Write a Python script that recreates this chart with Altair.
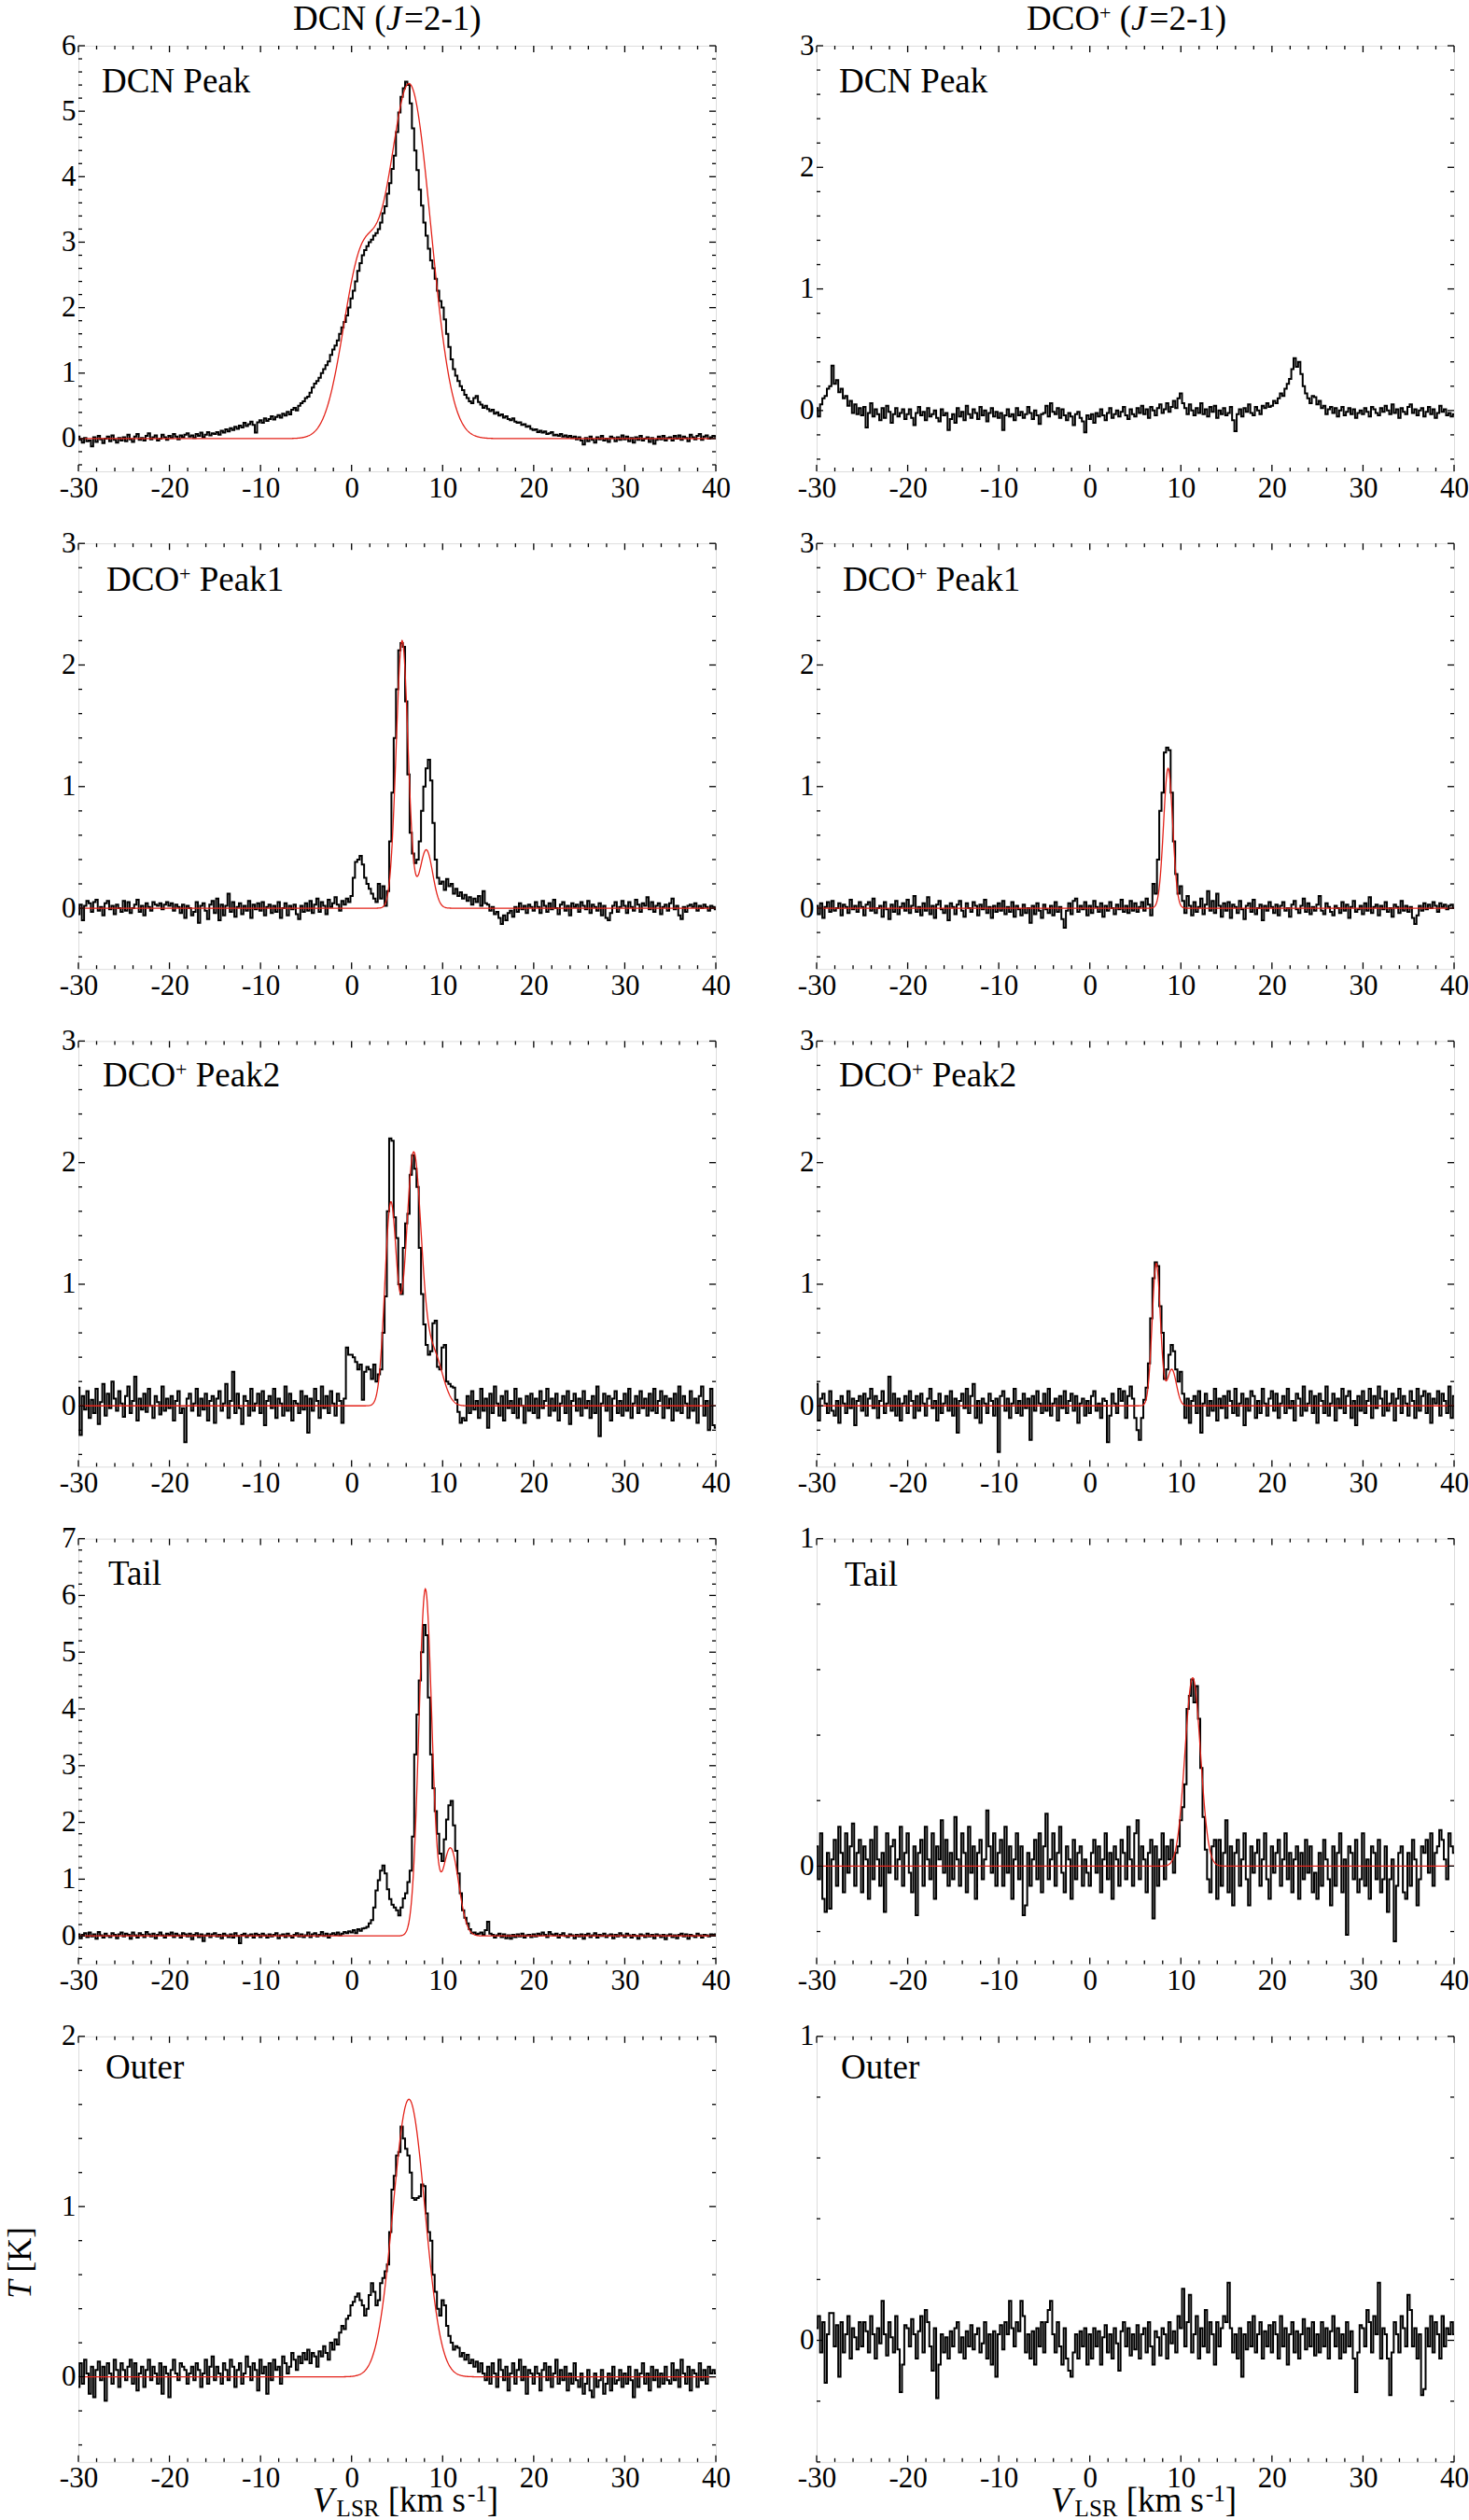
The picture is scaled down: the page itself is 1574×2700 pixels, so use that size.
import altair as alt
import numpy as np
import pandas as pd

FONT = "Liberation Serif"
RED = "#e32219"
PANEL_W, PANEL_H = 683, 456
ROW_GAP, COL_GAP = 77.2, 108
TICK_FS = 31

# Velocity axis shared by all spectra: first channel at -30 km/s, 0.25 km/s channels
V0, DV, NCH = -30.0, 0.25, 281

# Brightness temperature per channel, in units of 0.01 K (one line = 5 km/s)
dcn_dcn_peak = [
    3, -2, -6, 1, -4, -3, -12, 2, -5, 4, -1, -7, 0, 3, -4, 5, -2, -6, 1, -3,
    2, -4, 6, -1, -5, 3, 7, -2, 1, -3, 4, 8, -1, 2, 5, -3, 0, 6, 2, -2,
    4, 1, 7, 3, -1, 5, 2, 6, 8, 3, 5, 1, 7, 4, 9, 2, 6, 10, 5, 8,
    7, 10, 6, 12, 9, 14, 11, 16, 13, 18, 15, 20, 17, 24, 19, 22, 26, 21, 9, 25,
    28, 24, 31, 27, 30, 34, 29, 33, 36, 32, 38, 35, 41, 37, 44, 47, 43, 50, 54, 57,
    62, 64, 70, 78, 84, 88, 93, 100, 106, 112, 118, 128, 136, 142, 150, 160, 170, 178, 188, 200,
    214, 226, 240, 256, 268, 280, 288, 294, 300, 304, 310, 314, 320, 330, 344, 355, 374, 390, 412, 432,
    468, 498, 522, 535, 545, 540, 512, 474, 440, 410, 380, 356, 330, 310, 290, 272, 260, 244, 226, 210,
    200, 182, 160, 140, 121, 106, 96, 88, 80, 74, 67, 62, 57, 54, 62, 65, 56, 52, 47, 50,
    45, 42, 44, 38, 40, 35, 37, 32, 34, 30, 28, 31, 26, 24, 25, 21, 22, 18, 19, 15,
    13, 14, 10, 12, 9, 11, 7, 8, 10, 5, 6, 4, 7, 3, 5, 2, 4, 1, 3, -1,
    2, -3, -9, 1, -4, 3, -2, -6, 2, -1, 4, -3, 0, -5, 3, 1, -4, 2, -2, 5,
    -1, 3, -4, 1, -6, 2, -2, 4, -3, 0, 2, -5, 1, -8, -2, 3, -1, 4, -3, 1,
    2, -3, 4, 0, 5, -2, 3, 1, -4, 6, 2, -1, 4, 7, -2, 3, 5, 0, 2, 4,
    3,
]
dco_dcn_peak = [
    2, -5, 5, 10, 12, 18, 20, 37, 22, 25, 15, 18, 10, 12, 4, 8, -2, 5, -3, 2,
    -4, 3, -14, -2, 6, -5, 1, -3, -8, 2, -6, 4, -1, -10, -3, 2, -5, -2, 1, -7,
    -3, 1, -6, -12, -2, 3, -4, -1, -8, 2, -5, -3, 0, -6, -9, 1, -4, -2, -16, -7,
    -3, -10, 2, -5, -1, -8, 4, -3, -6, 1, -2, -7, 3, -4, 0, -9, -2, 2, -5, -1,
    -6, -2, -16, -4, 1, -5, -3, -8, 2, -4, -1, -6, -3, 3, -2, -7, 0, -4, -11, -3,
    -2, 4, -5, 6, -1, -3, 2, -6, 1, -4, -8, -2, -5, -12, -3, -1, -6, -9, -18, -4,
    -7, -3, -10, -2, -5, 1, -4, -8, -2, 2, -6, -3, 0, -5, -1, 3, -4, -7, 1, -3,
    -5, 2, -2, 4, -3, 1, -6, 3, 0, -4, 2, 5, -2, 1, 6, -1, 3, 8, 2, 10,
    14, 6, 2, -3, 5, 0, -4, 2, -2, 6, -3, 1, -5, 3, -1, 4, -6, 0, -3, 2,
    -4, -2, 3, -8, -17, -3, 1, -5, 2, -1, 5, -2, -4, 3, 0, -3, 4, 2, 6, 3,
    4, 8, 6, 10, 14, 12, 18, 22, 26, 34, 43, 36, 40, 30, 20, 14, 10, 6, 12, 11,
    5, 8, 2, 4, -3, 1, 3, -2, 2, -5, 0, 3, -4, -1, 2, -3, 1, -6, -2, 0,
    -3, 2, -1, -5, 3, 1, -2, -4, 2, -1, 4, 0, -3, 5, -2, 1, -6, 2, -1, -3,
    3, 5, -2, 1, -4, 0, 2, -5, -1, 3, -3, 1, -6, -2, 4, -1, 1, -4, -2, -5,
    -3,
]
dcn_dco_peak1 = [
    -5, 3, -10, 2, 6, 4, -3, 5, 7, -2, 1, -6, 4, 6, -1, 2, -5, 3, 0, -3,
    6, -2, 5, -4, 0, 3, 7, -3, 2, -6, 4, 1, -2, 5, 3, 2, 4, -1, 3, 5,
    2, 4, -2, 3, 1, -4, 3, -8, 2, 0, -6, -3, 5, -12, 2, 4, -2, -9, 3, 6,
    -4, 8, -10, 3, -6, 2, 12, -3, 5, -7, 1, 4, -5, 2, -2, 6, -8, 3, -1, 4,
    -2, 5, -6, 1, 3, -4, 2, -3, 5, -8, 0, 4, -6, 2, -1, 3, -5, -9, 2, -3,
    4, -2, 6, -4, 3, 8, -3, 5, 2, -5, 7, 1, 4, 9, 3, -2, 6, 3, 8, 5,
    10, 25, 38, 40, 43, 36, 25, 20, 16, 12, 8, 5, 20, 8, 18, 2, 14, 55, 95, 140,
    180, 212, 218, 215, 170, 110, 62, 45, 37, 40, 55, 80, 100, 115, 122, 105, 70, 40, 25, 20,
    22, 15, 24, 18, 20, 12, 16, 10, 13, 8, 11, 6, 9, 3, 8, 5, 10, 2, 14, 4,
    3, -2, 1, -5, -3, -8, -13, -6, -10, -4, -2, -7, 1, -3, 4, -1, 2, -4, 3, 1,
    -2, 5, 1, -4, 6, 2, -3, 4, -1, 7, 0, -5, 3, 5, -2, 2, -6, 4, 1, 3,
    -3, 5, 2, -1, 6, -4, 3, 1, -2, 4, -6, 2, -8, -10, -4, 2, 5, -3, 1, 6,
    2, -4, 5, 1, -2, 7, 3, -3, 4, 2, 9, -1, 5, -3, 2, 4, -5, 1, 3, -2,
    4, 8, -1, 2, -6, -9, 1, -3, 2, 3, 1, 4, -2, 2, 0, 3, 1, -2, 2, 1,
    -1,
]
dco_dco_peak1 = [
    2, -5, 4, -8, 1, 5, -3, 6, -2, 0, 4, -6, 3, 1, -4, 7, -1, 2, -3, 5,
    1, -6, 3, 5, -2, 8, -4, 0, 2, -7, 5, -1, -9, 3, -3, 6, -5, 1, 4, -2,
    7, -4, 2, 10, -3, 1, -6, 4, -2, 9, -5, 2, -8, 3, 6, -1, -4, 2, -10, 4,
    1, -5, 3, 6, -2, -7, 4, 0, -3, 5, 2, -6, 3, -1, 7, -4, 1, -8, 2, -3,
    4, -2, 6, -5, 1, -3, 5, -7, 2, -1, -6, 3, -4, 0, -12, 2, -5, 4, -2, -8,
    3, -1, -4, 2, -6, 5, -3, 1, -9, -16, -2, 4, -5, 6, 8, -3, 2, -1, 5, -6,
    2, -4, 6, 1, -3, 4, -7, 2, -2, 5, 0, -5, 3, -1, 7, -3, 2, -4, 6, -2,
    4, -3, 1, 5, -2, 8, 3, -6, 20, 12, 40, 80, 95, 128, 132, 130, 95, 55, 28, 12,
    18, 6, -4, 10, 2, -6, 5, -3, 1, 8, -5, 3, 14, -2, 6, -4, 12, 2, -7, 4,
    -2, 5, -8, 3, 1, -4, 6, -1, -9, 2, 4, -3, 7, -5, 0, 3, -10, 2, -2, 5,
    1, -4, 3, -6, 2, 5, -2, 0, -7, 3, 6, -1, -4, 2, 8, -3, 4, -5, 1, -2,
    3, 10, -2, -5, 4, 1, -3, -6, 2, 0, -4, 5, -2, 3, -8, 1, 6, -3, -1, 2,
    -5, 4, -2, 9, -4, 1, 3, -6, 2, -1, 5, -3, 0, -7, 3, 1, -4, 6, -2, 2,
    -3, 1, -8, -13, -6, 2, -2, 4, -1, 3, 0, 5, 2, -3, 4, 1, 3, -1, 2, 3,
    0,
]
dcn_dco_peak2 = [
    15, -24, 8, -3, 12, -10, 5, -6, 14, -15, 3, 18, -8, 10, -2, 20, 6, -4, 12, 2,
    -9, 8, 16, -6, 4, 24, -12, 6, -3, 10, -5, 14, 0, -10, 8, 3, -7, 16, -4, 6,
    -2, 8, -12, 4, 12, -6, -2, -30, 6, 10, -4, 2, 14, -8, 6, -3, 10, -12, 4, 8,
    -14, 6, 12, -4, 2, 18, -10, 4, 28, -6, 10, -2, -15, 8, 4, -8, 14, -4, 2, 10,
    -6, 12, -16, 4, 8, -2, 14, -10, 6, 2, -8, 16, -4, 10, -12, 4, 2, -6, 12, -3,
    8, -22, 6, -4, 14, 4, -10, 16, -2, 8, -6, 12, 2, -8, 10, 4, -14, 6, 48, 42,
    42, 40, 36, 30, 34, 5, 28, 32, 30, 22, 34, 20, 26, 30, 60, 90, 160, 220, 218, 155,
    138, 100, 92, 130, 150, 158, 190, 206, 195, 180, 130, 92, 67, 50, 42, 45, 68, 70, 32, 30,
    48, 50, 20, 18, 16, 15, 5, -5, -14, -10, -12, 8, -6, 12, -3, 4, -10, 14, -4, 6,
    -18, 10, -6, 16, 2, -8, 8, -12, 12, -2, 4, -6, 14, -10, 6, 0, -14, 8, -4, 10,
    -6, 6, -10, 12, -2, 4, 14, -8, 6, -4, 10, -12, 2, 8, -6, 12, -15, 4, 10, -4,
    6, -8, 12, -2, 4, -10, 8, -6, 16, -25, 2, 10, -4, 8, -12, 6, 12, -6, 4, -8,
    10, -4, 14, -10, 2, 8, -6, 12, -2, 6, -8, 10, -4, 14, -6, 4, 12, -10, 8, -2,
    6, -12, 10, -4, 16, -6, 8, 2, -10, 12, -4, 6, -14, 8, 16, -8, 4, -20, 14, -16,
    -18,
]
dco_dco_peak2 = [
    18, -12, 6, 10, 2, -6, 12, -4, -8, 4, -14, 8, 2, -6, 12, -2, 6, -16, 4, 8,
    -4, 10, -8, 6, 14, -2, 8, -10, 4, 12, -6, 2, 24, -4, 10, -8, 6, -12, 2, 8,
    -6, 12, 4, -10, 8, -4, 10, 2, -8, 6, 14, -2, 4, -12, 10, -6, 2, 8, -4, 12,
    -8, 6, -22, 4, 10, -2, 14, -6, 8, 18, -10, 4, -14, 6, 2, -6, 10, 4, -8, 6,
    -38, 8, 12, -4, 6, -10, 2, 14, -6, 4, -8, 10, -2, 6, -28, 8, -4, 12, 2, -6,
    10, -4, 14, -8, 2, 6, -12, 8, -2, 12, -6, 4, 10, -4, 8, -14, 2, 6, -8, 4,
    -6, 8, 12, -4, 2, -10, 6, 4, -30, -8, 10, 2, -6, 14, 4, 12, -10, 8, 16, 6,
    -10, -20, -28, -10, 5, 15, 35, 72, 105, 118, 115, 82, 60, 22, 30, 42, 50, 45, 30, 20,
    28, 10, -10, 6, -14, 4, 8, -6, 12, -22, 2, 10, -8, 4, -4, 14, -12, 6, -2, 8,
    -10, 12, 4, -6, 14, -8, 2, 10, -16, 6, -4, 12, 8, -10, 4, -6, 14, 2, -8, 6,
    12, -4, 10, -10, 2, 8, -6, 14, -2, 4, -12, 10, 6, -8, 16, -4, 2, 12, -6, 8,
    -14, 10, 4, -6, 16, -8, 2, 10, -12, 6, -2, 14, -6, 8, 12, -10, 4, -16, 8, -4,
    12, -6, 4, 14, -10, 8, -2, 16, 6, -8, 12, -4, 2, 10, -12, 6, 14, -6, 8, 2,
    -8, 12, 4, -10, 14, -4, 8, 12, -6, 10, -14, 6, 2, 12, -8, 10, 4, -6, 16, -10,
    8,
]
dcn_tail = [
    3, -4, 2, 5, -2, 6, -1, 3, -5, 7, 1, -3, 4, 0, -2, 5, 2, -4, 3, 6,
    -1, 4, 2, -5, 6, 1, -3, 5, 2, -2, 7, 3, -1, 4, -4, 2, 6, 1, -3, 4,
    2, 6, -2, 4, 1, -3, 5, 3, -1, 4, -6, 2, 5, -2, 3, -9, 1, 4, -2, 3,
    5, -1, 2, -4, 4, 1, -2, 3, -3, 5, 0, -13, 2, 4, -2, 1, 3, -3, 4, 2,
    -2, 4, 1, -3, 3, -1, 2, 5, -4, 1, 3, -2, 4, 0, -3, 2, 5, -1, 3, -2,
    1, 6, -2, 3, 5, -1, 2, 7, 0, 4, -3, 3, 5, 2, 6, 1, 4, 7, 5, 8,
    6, 10, 5, 12, 9, 13, 14, 16, 22, 28, 50, 80, 98, 115, 124, 110, 82, 65, 55, 50,
    45, 36, 50, 66, 75, 95, 115, 175, 320, 390, 450, 500, 548, 530, 420, 320, 260, 220, 180, 145,
    132, 170, 205, 230, 238, 195, 150, 110, 75, 45, 32, 22, 12, 5, 6, 3, 4, 6, 2, 10,
    25, 4, 2, -3, 1, 4, -2, 3, -4, 1, -5, 2, -2, 3, -1, 4, -3, 1, 2, -2,
    3, -1, 4, 1, 6, 2, -2, 7, 3, 1, 4, -3, 2, 5, 0, -2, 3, 1, -4, 2,
    -1, 3, -5, 2, 4, -2, 1, 5, -3, 2, 0, 4, -2, 1, 3, -4, 2, -1, 5, 1,
    -2, 4, 1, -3, 2, 0, -5, 3, 1, -2, 4, -1, 2, -4, 3, 1, -2, 2, -6, 1,
    3, -2, 1, -4, 2, 4, -1, 3, -5, 2, 0, -2, 4, 1, -3, 2, 1, -1, 3, 2,
    3,
]
dco_tail = [
    6, -4, 10, -10, -14, 4, -13, 2, 8, -6, 12, 4, -8, 10, -2, 6, 13, -6, 4, 8,
    -8, 6, 2, -10, 8, -4, 12, 2, -6, 4, -14, 10, -2, 6, 8, -4, 2, 12, -6, 4,
    10, -2, -8, 6, -15, 4, 8, -6, 12, 2, -4, 10, -10, 6, 2, 14, -2, 8, -6, 4,
    -4, 15, 2, -6, 10, 4, -8, 12, -2, 6, -10, 4, 8, -4, 2, 17, 6, -2, 10, -6,
    4, 8, -6, 12, -2, 6, -10, 2, 10, -4, 6, -15, -12, 4, -6, 2, 8, -4, 10, -8,
    6, 16, -4, 2, 10, -6, 4, 12, -2, -8, 6, 2, -10, 8, -4, 4, 6, -6, 2, -2,
    -6, 4, 8, -2, 6, -8, 2, 10, -4, 4, -10, 6, 2, -6, 8, 4, -4, 12, 2, -6,
    10, 14, -4, 6, 2, -8, 4, 8, -16, 6, -6, 2, 10, -4, 6, 2, 8, -2, 4, 6,
    14, 18, 25, 48, 52, 57, 50, 55, 45, 30, 15, 5, -4, -8, 6, 8, -10, 8, -6, 4,
    14, -8, 6, -12, 4, 8, -6, 2, 10, -4, -12, 6, -2, 4, 8, -6, 2, 10, -4, -10,
    6, -2, 4, 8, -6, 2, 10, -4, 4, -8, 2, 6, -10, 4, -4, 8, -2, 6, -8, -2,
    -10, 4, -6, 8, 2, -4, -12, 6, -6, 4, 10, -8, 2, -21, 6, 4, -4, 8, -8, -4,
    10, -6, 2, -10, 6, 4, -4, 8, -8, -4, 6, -14, -4, 2, -23, -6, 4, 6, -8, -10,
    4, -6, 8, 2, -12, -4, 6, 4, 8, -2, 10, -6, 4, 6, 11, 8, 2, -4, 10, 6,
    4,
]
dcn_outer = [
    -6, 8, -4, 10, 2, -10, 6, -12, 4, 9, -2, 6, -14, 8, 2, -4, 10, 4, -6, 8,
    4, -2, 6, 10, -4, 8, -8, 2, 6, -6, 4, 10, -2, 6, 2, -4, 8, -10, 6, 2,
    -12, 4, 10, 2, -2, 8, 6, 4, -4, 2, 6, -2, 8, 4, -6, 2, 10, -4, 6, 12,
    -2, 6, 2, -4, 8, 4, -2, 10, 6, -6, 4, 8, -4, 2, 12, 6, -2, 8, 4, -8,
    10, 2, 6, -10, 8, -2, 10, 4, 6, -4, 12, 8, 2, 6, 14, 10, 4, 12, 8, 14,
    10, 16, 8, 14, 12, 6, 15, 12, 18, 14, 10, 20, 16, 22, 19, 26, 30, 28, 34, 36,
    42, 44, 47, 49, 45, 42, 36, 40, 48, 55, 50, 42, 45, 55, 58, 62, 66, 85, 110, 118,
    130, 132, 147, 140, 134, 130, 120, 105, 104, 105, 106, 113, 112, 96, 85, 80, 60, 50, 40, 36,
    45, 42, 30, 24, 20, 16, 18, 17, 12, 14, 10, 13, 8, 10, 6, 9, 3, 8, 2, -2,
    6, -4, 8, 2, -6, 10, 4, -2, 6, -8, 2, 8, -4, 4, 10, -2, 6, -10, 4, 2,
    -4, 6, 2, -8, 4, 8, -2, 6, -6, 2, 10, -4, 4, -2, 6, -8, 2, -4, 8, -2,
    -6, 2, -10, -4, 4, -8, -12, 2, -6, -2, 4, -10, -4, 2, -8, 6, -4, -2, 4, -6,
    2, -4, 6, -2, -12, 4, -6, 2, 8, -4, 2, -8, 6, -2, 4, -6, 2, -4, 6, -2,
    -4, 8, -2, 4, -6, 10, 2, -4, 6, -8, 4, 2, -6, 8, -2, 4, -4, 6, 2, 4,
    2,
]
dco_outer = [
    4, 8, -4, 6, -14, 2, 9, 9, -2, 5, -12, 6, -4, 2, 8, -6, 4, 1, -3, 6,
    -2, 6, 3, -4, 8, 2, -6, 4, -1, 13, 2, -5, 6, 1, -4, 8, -3, -17, -8, 5,
    4, -2, 7, 2, -6, 3, 8, -4, 10, 6, -2, -10, 4, -19, -8, 2, -4, 1, -6, 3,
    -2, 4, 6, -4, 1, -6, 3, -2, 5, -3, 2, 4, -4, -1, 6, -6, 2, -8, 3, -12,
    2, 5, -3, 6, 2, 13, 4, -2, 6, 3, 13, 8, -4, 2, -6, 3, -8, 4, -2, 6,
    -4, 6, 10, 13, 2, -4, 6, -2, -8, 4, -6, -10, -12, -4, 2, -6, 3, -2, 4, -8,
    2, -6, 4, -2, 3, -8, 1, 5, -4, 2, -6, 4, -1, -10, 3, 6, -2, 4, -5, 2,
    -3, 5, -6, 2, 4, -4, 6, -2, -8, 3, 1, -5, 4, 2, -6, 6, -1, 3, -4, 8,
    4, 17, -2, 6, 15, -4, 2, 8, -6, 4, -2, 10, -4, 6, 2, -8, 6, -2, 4, 8,
    6, 19, 4, -4, 2, -6, 4, -12, 2, -3, 6, -2, 8, -4, 2, 6, -6, 3, -2, 5,
    -4, 6, 2, -6, 8, -2, 4, -8, 2, 6, -4, 3, -6, 2, 7, -3, 4, -2, 6, -5,
    2, -4, 6, -2, 4, -6, 3, 8, -2, 4, -6, 2, -4, 6, -2, 3, -6, -17, -4, 5,
    4, -2, 10, 6, -4, 8, 2, 19, -6, 4, 2, -6, -18, -4, 6, 2, -4, 8, 4, -2,
    15, 10, -2, 4, -6, 2, -18, -16, 4, -2, 8, -4, 6, 2, -6, 8, -2, 4, 2, 6,
    2,
]

# Gaussian fit components: (peak [K], centre [km/s], sigma [km/s])
fit_dcn_dcn_peak = [(5.35, 6.4, 2.3), (2.6, 1.0, 2.0)]
fit_dcn_dco_peak1 = [(2.2, 5.55, 0.65), (0.48, 8.2, 0.7)]
fit_dco_dco_peak1 = [(1.15, 8.6, 0.5)]
fit_dcn_dco_peak2 = [(1.65, 4.3, 0.65), (2.05, 6.8, 0.85), (0.42, 9.0, 1.0)]
fit_dco_dco_peak2 = [(1.17, 7.3, 0.45), (0.3, 9.0, 0.5)]
fit_dcn_tail = [(6.1, 8.1, 0.71), (1.55, 10.85, 0.9)]
fit_dco_tail = [(0.575, 11.3, 0.85)]
fit_dcn_outer = [(1.63, 6.3, 1.75)]

# Panel labels as text runs
label_dcn_peak = [("DCN Peak", "r")]
label_peak1 = [("DCO", "r"), ("+", "sup"), (" Peak1", "r")]
label_peak2 = [("DCO", "r"), ("+", "sup"), (" Peak2", "r")]
label_tail = [("Tail", "r")]
label_outer = [("Outer", "r")]

panels = [
    dict(spec=dcn_dcn_peak, fit=fit_dcn_dcn_peak, y=(-0.5, 6), label=label_dcn_peak, lx=25, ly=50),
    dict(spec=dco_dcn_peak, fit=None, y=(-0.5, 3), label=label_dcn_peak, lx=24, ly=50),
    dict(spec=dcn_dco_peak1, fit=fit_dcn_dco_peak1, y=(-0.5, 3), label=label_peak1, lx=30, ly=51),
    dict(spec=dco_dco_peak1, fit=fit_dco_dco_peak1, y=(-0.5, 3), label=label_peak1, lx=28, ly=51),
    dict(spec=dcn_dco_peak2, fit=fit_dcn_dco_peak2, y=(-0.5, 3), label=label_peak2, lx=26, ly=49),
    dict(spec=dco_dco_peak2, fit=fit_dco_dco_peak2, y=(-0.5, 3), label=label_peak2, lx=24, ly=49),
    dict(spec=dcn_tail, fit=fit_dcn_tail, y=(-0.5, 7), label=label_tail, lx=32, ly=49),
    dict(spec=dco_tail, fit=fit_dco_tail, y=(-0.3, 1), label=label_tail, lx=30, ly=50),
    dict(spec=dcn_outer, fit=fit_dcn_outer, y=(-0.5, 2), label=label_outer, lx=29, ly=45),
    dict(spec=dco_outer, fit=None, y=(-0.4, 1), label=label_outer, lx=26, ly=45),
]

column_titles = [
    [("DCN (", "r"), ("J", "it"), ("=2-1)", "r")],
    [("DCO", "r"), ("+", "sup"), (" (", "r"), ("J", "it"), ("=2-1)", "r")],
]
column_title_x = [230, 225]
x_title = [("V", "it"), ("LSR", "sub"), (" [km s", "r"), ("-1", "sup"), ("]", "r")]

# Times/Liberation Serif advance widths (1/1000 em)
REG = {" ": 250, "(": 333, ")": 333, "[": 333, "]": 333, "+": 564, "=": 564, "-": 333,
       "D": 722, "C": 667, "N": 722, "O": 722, "P": 556, "T": 611, "K": 722, "L": 611,
       "S": 556, "R": 667, "e": 444, "a": 444, "k": 500, "i": 278, "l": 278, "u": 500,
       "t": 278, "r": 333, "m": 778, "s": 389}
ITA = {"J": 444, "V": 611, "T": 556}


def run_width(text, size, italic=False):
    table = ITA if italic else REG
    return sum(table.get(ch, REG.get(ch, 500)) for ch in text) / 1000.0 * size


def text_runs(segments, x, y, size, small):
    layers = []
    pos = x
    for text, kind in segments:
        fs = small if kind in ("sup", "sub") else size
        italic = kind == "it"
        lead = len(text) - len(text.lstrip(" "))
        shown = text.strip(" ")
        dy = -0.3 * size if kind == "sup" else (0.14 * size if kind == "sub" else 0.0)
        if kind == "sup" and shown.startswith("-"):
            pos += 2
        layers.append(
            alt.Chart(pd.DataFrame({"t": [shown]}))
            .mark_text(align="left", baseline="alphabetic", font=FONT, fontSize=fs,
                       fontStyle="italic" if italic else "normal", color="black")
            .encode(text="t:N", x=alt.value(pos + lead * 0.25 * fs), y=alt.value(y + dy))
        )
        pos += run_width(text, fs, italic) + (3 if italic else 0)
    return layers


X_SCALE = alt.Scale(domain=[-30, 40], nice=False, zero=False)
X_MAJOR = list(range(-30, 41, 10))
X_MINOR = [v for v in range(-30, 41, 2) if v % 10 != 0]
X_AXIS = alt.Axis(values=X_MAJOR, labelExpr="'' + datum.value", labelFlush=False,
                  labelOverlap=False, ticks=False, tickSize=0, domain=False, grid=False,
                  title=None, labelFont=FONT, labelFontSize=TICK_FS, labelColor="black",
                  labelPadding=3)


def y_ticks(lo, hi):
    major = list(range(int(np.ceil(lo)), int(np.floor(hi)) + 1))
    k0 = int(np.ceil(lo / 0.2 - 1e-9))
    k1 = int(np.floor(hi / 0.2 + 1e-9))
    minor = [round(k * 0.2, 2) for k in range(k0, k1 + 1)]
    minor = [m for m in minor if abs(m - round(m)) > 1e-6]
    return major, minor


def spectrum_frame(vals):
    assert len(vals) == NCH
    v = V0 + DV * np.arange(len(vals))
    return pd.DataFrame({"v": np.round(v, 3), "T": np.asarray(vals) / 100.0})


def fit_frame(components):
    v = np.linspace(-30, 40, 1401)
    t = np.zeros_like(v)
    for amp, cen, sig in components:
        t += amp * np.exp(-0.5 * ((v - cen) / sig) ** 2)
    return pd.DataFrame({"v": v, "T": t})


def make_panel(p, idx):
    lo, hi = p["y"]
    y_major, y_minor = y_ticks(lo, hi)
    y_scale = alt.Scale(domain=[lo, hi], nice=False, zero=False)
    y_axis = alt.Axis(values=y_major, labelExpr="'' + datum.value", labelOverlap=False,
                      ticks=False, tickSize=0, domain=False, grid=False, title=None,
                      labelFont=FONT, labelFontSize=TICK_FS, labelColor="black",
                      labelPadding=3)

    def X():
        return alt.X("v:Q", scale=X_SCALE, axis=X_AXIS)

    def Y():
        return alt.Y("T:Q", scale=y_scale, axis=y_axis)

    layers = [
        alt.Chart(spectrum_frame(p["spec"]))
        .mark_line(interpolate="step", color="black", strokeWidth=2.0, clip=True)
        .encode(x=X(), y=Y())
    ]
    if p["fit"]:
        layers.append(
            alt.Chart(fit_frame(p["fit"]))
            .mark_line(color=RED, strokeWidth=1.3, clip=True)
            .encode(x=X(), y=Y())
        )

    tick_style = dict(color="black", strokeWidth=1.3)
    for vals, ln in ((X_MAJOR, 7), (X_MINOR, 4)):
        df = pd.DataFrame({"v": vals})
        layers.append(alt.Chart(df).mark_rule(**tick_style).encode(
            x=X(), y=alt.value(0), y2=alt.value(ln)))
        layers.append(alt.Chart(df).mark_rule(**tick_style).encode(
            x=X(), y=alt.value(PANEL_H), y2=alt.value(PANEL_H - ln)))
    for vals, ln in ((y_major, 7), (y_minor, 4)):
        df = pd.DataFrame({"T": vals})
        layers.append(alt.Chart(df).mark_rule(**tick_style).encode(
            y=Y(), x=alt.value(0), x2=alt.value(ln)))
        layers.append(alt.Chart(df).mark_rule(**tick_style).encode(
            y=Y(), x=alt.value(PANEL_W), x2=alt.value(PANEL_W - ln)))

    layers += text_runs(p["label"], p["lx"], p["ly"], 37, 22)

    row, col = divmod(idx, 2)
    if row == 0:
        layers += text_runs(column_titles[col], column_title_x[col], -17, 37, 22)
    if row == 4:
        layers += text_runs(x_title, 251, 509, 37, 25)
        if col == 0:
            t_w = run_width("T", 35, italic=True) + run_width(" ", 35)
            for text, italic, yy in (("T", True, 281), ("[K]", False, 281 - t_w)):
                layers.append(
                    alt.Chart(pd.DataFrame({"t": [text]}))
                    .mark_text(align="left", baseline="alphabetic", angle=270, font=FONT,
                               fontSize=35, fontStyle="italic" if italic else "normal",
                               color="black")
                    .encode(text="t:N", x=alt.value(-51), y=alt.value(yy))
                )

    return alt.layer(*layers).properties(width=PANEL_W, height=PANEL_H)


charts = [make_panel(p, i) for i, p in enumerate(panels)]

chart = (
    alt.concat(*charts, columns=2, spacing={"row": ROW_GAP, "column": COL_GAP}, bounds="flush")
    .properties(
        autosize=alt.AutoSizeParams(type="none"),
        padding={"left": 84, "top": 49, "right": 1574 - 84, "bottom": 2700 - 49},
        background="white",
    )
    .configure_view(stroke="black", strokeWidth=1.7)
    .configure(font=FONT)
)

chart.save("out.html", embed_options={"renderer": "svg", "actions": False})
